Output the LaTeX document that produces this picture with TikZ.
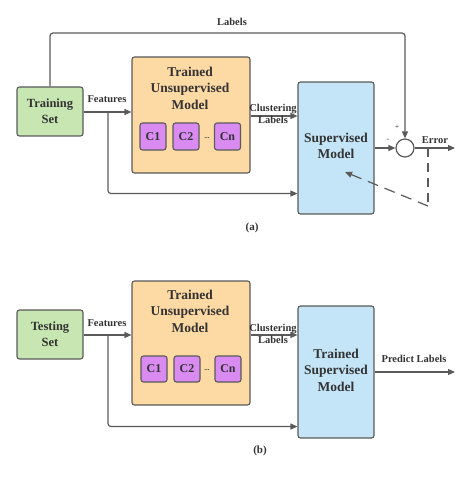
\documentclass[tikz,border=0pt]{standalone}
\usepackage{fontspec}
\setmainfont{Liberation Serif}
\usetikzlibrary{arrows.meta}
\definecolor{lnc}{HTML}{5A5A5A}
\definecolor{txc}{HTML}{333333}
\definecolor{grn}{HTML}{C7E6B1}
\definecolor{org}{HTML}{FDD9A3}
\definecolor{pur}{HTML}{D98BF2}
\definecolor{blu}{HTML}{C4E5F7}
\tikzset{
  box/.style={draw=lnc, line width=1.1pt, rounded corners=2.5pt, inner sep=0pt},
  setbox/.style={box, fill=grn, minimum width=66pt, minimum height=49pt, font=\bfseries\fontsize{12.5}{16}\selectfont, text=txc, align=center},
  unsbox/.style={box, fill=org, minimum width=118pt},
  cbox/.style={box, fill=pur, minimum width=26pt, minimum height=27pt, font=\bfseries\fontsize{12}{14}\selectfont, text=txc},
  supbox/.style={box, fill=blu, minimum width=76pt, minimum height=132pt},
  title/.style={font=\bfseries\fontsize{13.5}{16.5}\selectfont, text=txc, align=center, inner sep=0pt},
  lbl/.style={font=\bfseries\fontsize{10.5}{12}\selectfont, text=txc, align=center, inner sep=0pt},
  conn/.style={draw=lnc, line width=1.2pt, -{Triangle[length=7pt,width=6pt]}},
  plain/.style={draw=lnc, line width=1.2pt},
}
\begin{document}
\begin{tikzpicture}[x=1pt,y=-1pt]
\useasboundingbox (0,0) rectangle (474,481);
% ---------- (a) ----------
\node[setbox] (ta) at (50,111.5) {Training\\Set};
\node[unsbox, minimum height=116pt] (ua) at (191,115) {};
\node[title] (uta) at (190,88) {Trained\\Unsupervised\\Model};
\node[cbox] (c1a) at (153,136.5) {C1};
\node[cbox] (c2a) at (186,136.5) {C2};
\node[cbox] (cna) at (227.5,136.5) {Cn};
\node[lbl, font=\bfseries\fontsize{7}{8}\selectfont] (dta) at (207,138) {...};
\node[supbox] (sa) at (336,148) {};
\node[title] (sta) at (336,146) {Supervised\\Model};
\node[draw=lnc, line width=1.2pt, circle, fill=white, minimum size=18pt, inner sep=0pt] (cir) at (405,148) {};
\coordinate (erra) at (455,148);
\coordinate (lbtop1) at (50,33);
\coordinate (lbtop2) at (405,33);
\coordinate (bra) at (108,112);
\coordinate (d1) at (428,148);
\coordinate (d2) at (428,206);
\coordinate (d3) at (345,172);
\draw[conn, rounded corners=3pt] (ta.north) -- (lbtop1) -- (lbtop2) -- (cir.north);
\node[lbl] (lbla) at (232,22) {Labels};
\draw[conn] (ta.east |- bra) -- (bra -| ua.west);
\node[lbl] (fta) at (107,99) {Features};
\draw[conn, rounded corners=3pt] (bra) |- ([yshift=21pt]sa.south west);
\draw[conn] (ua.east |- 0,116) -- (sa.west |- 0,116);
\node[lbl] (cla) at (273,114) {Clustering\\Labels};
\draw[conn] (sa.east |- cir) -- (cir.west);
\draw[conn] (cir.east) -- (erra);
\node[lbl] (era) at (435,140) {Error};
\node[lbl, font=\fontsize{8}{9}\selectfont] (pl) at (397,127) {+};
\node[lbl, font=\fontsize{8}{9}\selectfont] (mi) at (388,140) {-};
\draw[plain, dash pattern=on 9pt off 6pt] (d1) -- (d2);
\draw[conn, dash pattern=on 11pt off 7pt] (d2) -- (d3);
\node[lbl, font=\bfseries\fontsize{11}{12}\selectfont] (capa) at (252,228) {(a)};
% ---------- (b) ----------
\node[setbox] (tb) at (50,334.5) {Testing\\Set};
\node[unsbox, minimum height=124pt] (ub) at (191,343) {};
\node[title] (utb) at (190,311) {Trained\\Unsupervised\\Model};
\node[cbox, minimum height=26pt] (c1b) at (154,369) {C1};
\node[cbox, minimum height=26pt] (c2b) at (187,369) {C2};
\node[cbox, minimum height=26pt] (cnb) at (228,369) {Cn};
\node[lbl, font=\bfseries\fontsize{7}{8}\selectfont] (dtb) at (207,370) {...};
\node[supbox] (sb) at (336,372) {};
\node[title] (stb) at (336,370) {Trained\\Supervised\\Model};
\coordinate (brb) at (108,335);
\coordinate (predb) at (455,372);
\draw[conn] (tb.east |- brb) -- (brb -| ub.west);
\node[lbl] (ftb) at (107,323) {Features};
\draw[conn, rounded corners=3pt] (brb) |- ([yshift=12pt]sb.south west);
\draw[conn] (ub.east |- 0,335) -- (sb.west |- 0,335);
\node[lbl] (clb) at (273,333.5) {Clustering\\Labels};
\draw[conn] (sb.east |- predb) -- (predb);
\node[lbl] (prb) at (414,359) {Predict Labels};
\node[lbl, font=\bfseries\fontsize{11}{12}\selectfont] (capb) at (260,451) {(b)};
\end{tikzpicture}
\end{document}
